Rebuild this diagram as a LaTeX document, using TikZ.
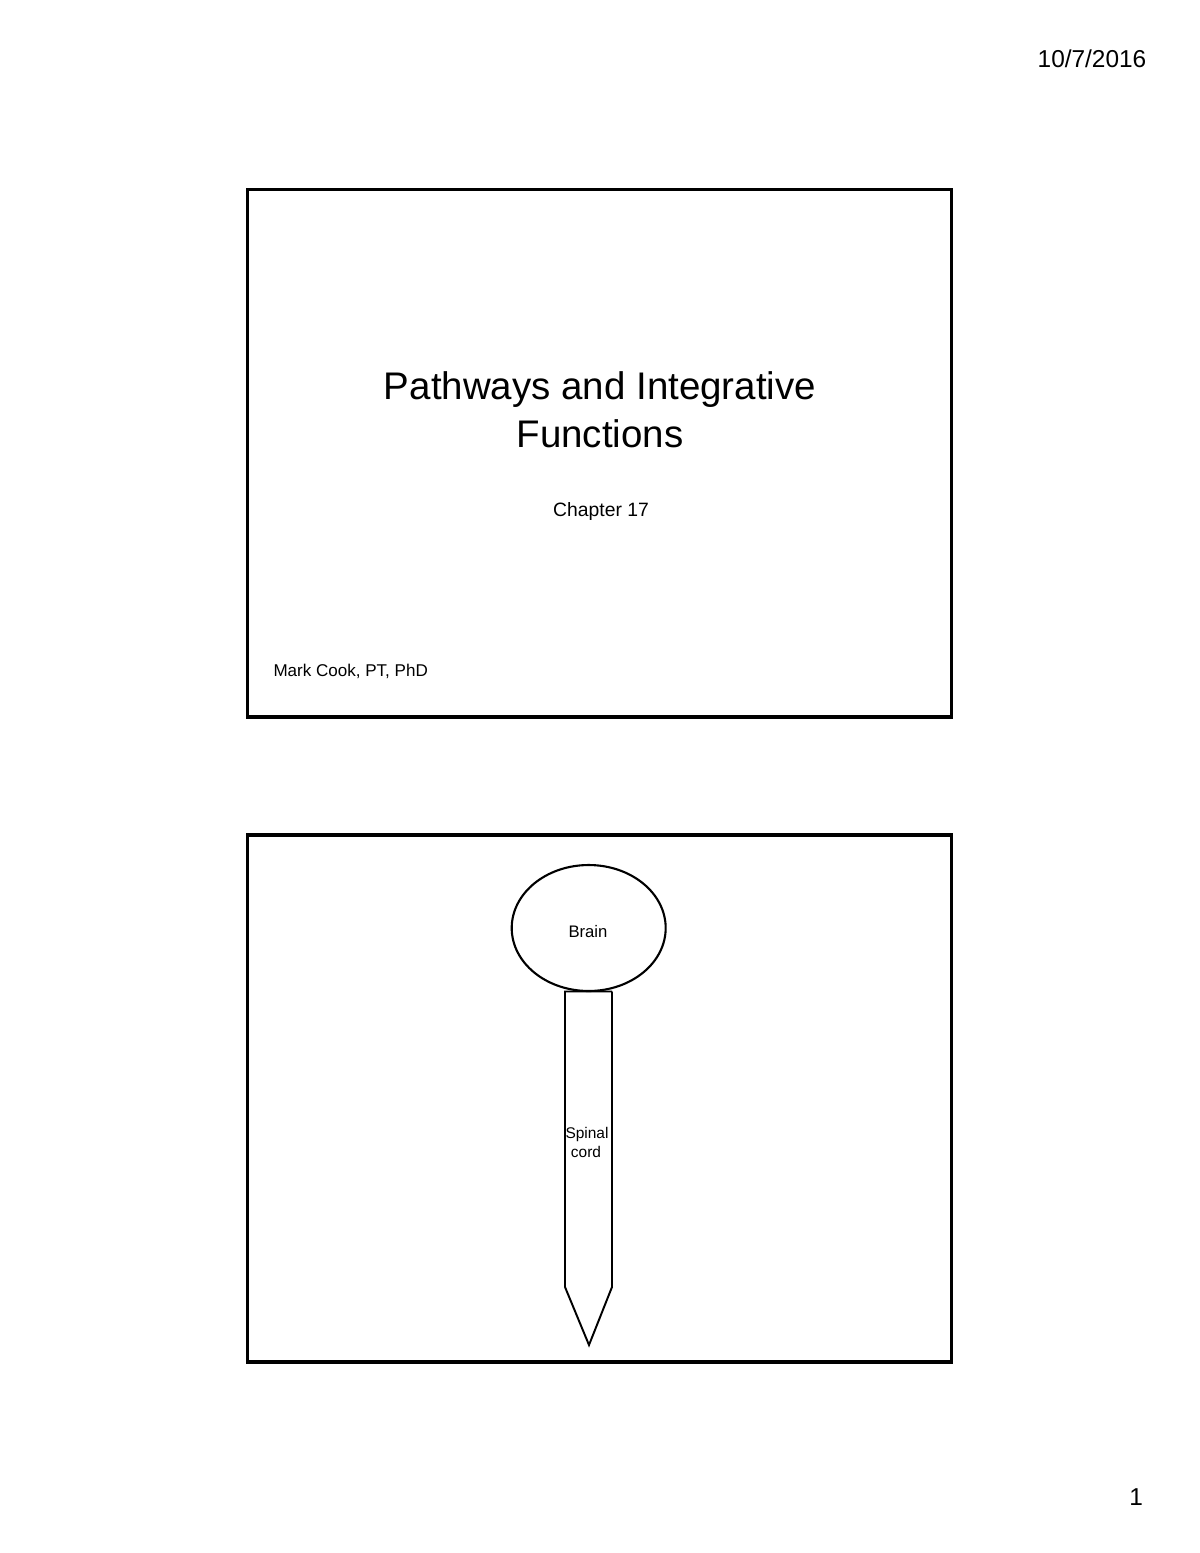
\documentclass[tikz,border=0pt]{standalone}
\usepackage{fontspec}
\setmainfont{Liberation Sans}
\usetikzlibrary{shapes.geometric}
\tikzset{
  frame/.style={draw=black, line width=2.2pt},
  txt/.style={inner sep=0pt, outer sep=0pt, text=black},
  brainshape/.style={draw=black, line width=1.2pt, ellipse, minimum width=3.08cm, minimum height=2.52cm, inner sep=0pt},
  cordline/.style={draw=black, line width=1.1pt, line join=miter}
}
\begin{document}
\begin{tikzpicture}[x=0.02cm, y=-0.02cm]
\useasboundingbox (0,0) rectangle (1200,1553);
\fill[white] (0,0) rectangle (1200,1553);
% header / footer
\node[txt, anchor=base] (date) at (1092,67) {\fontsize{13.9}{16}\selectfont 10/7/2016};
\node[txt, anchor=base east] (pagenum) at (1143,1505) {\fontsize{13.9}{16}\selectfont 1};
% slide 1
\draw[frame] (247.5,189.5) rectangle (951.5,717);
\node[txt, anchor=base] (title1) at (600,399) {\fontsize{21.9}{26}\selectfont Pathways and Integrative};
\node[txt, anchor=base] (title2) at (600,447) {\fontsize{21.9}{26}\selectfont Functions};
\node[txt, anchor=base] (chapter) at (601,516) {\fontsize{11}{13}\selectfont Chapter 17};
\node[txt, anchor=base west] (author) at (273.5,676) {\fontsize{9.7}{12}\selectfont Mark Cook, PT, PhD};
% slide 2
\draw[frame] (247.5,835) rectangle (951.5,1362);
\node[brainshape] (brain) at (588.7,928) {};
\node[txt, anchor=base] (brainlbl) at (588,937) {\fontsize{9.5}{11}\selectfont Brain};
\coordinate (ctl) at (565,991.5);
\coordinate (ctr) at (612,991.5);
\coordinate (cbl) at (565,1287);
\coordinate (cbr) at (612,1287);
\coordinate (ctip) at (589,1345);
\draw[cordline] (ctr) -- (ctl) -- (cbl) -- (ctip) -- (cbr) -- (ctr);
\node[txt, anchor=base] (spinal1) at (587,1138) {\fontsize{8.8}{10}\selectfont Spinal};
\node[txt, anchor=base] (spinal2) at (586,1157) {\fontsize{8.8}{10}\selectfont cord};
\end{tikzpicture}
\end{document}
